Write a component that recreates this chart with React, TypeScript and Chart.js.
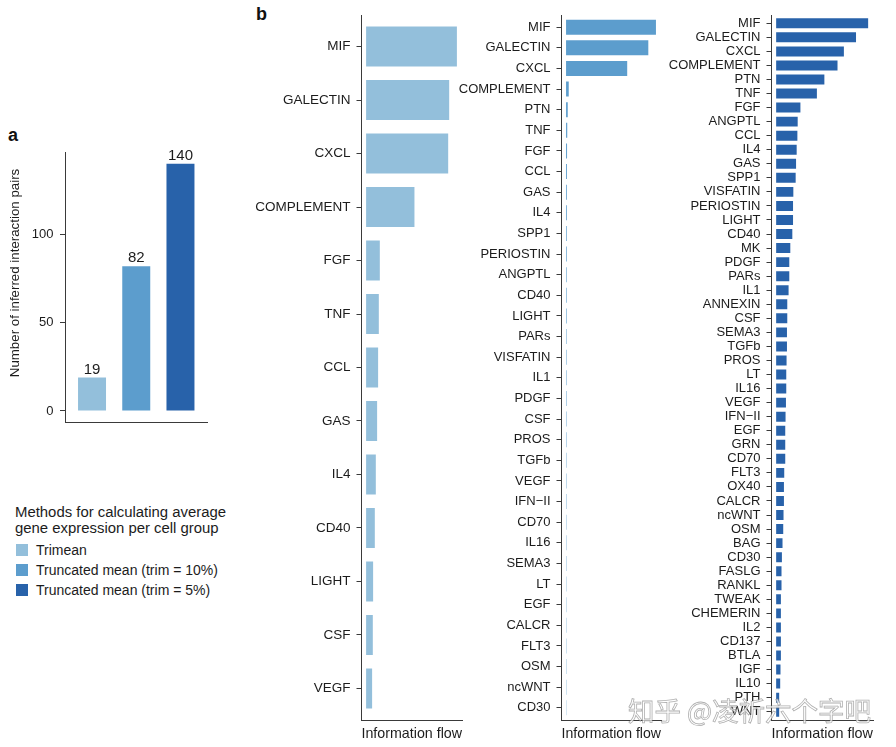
import { useEffect, useRef } from 'react';
import { Chart, registerables } from 'chart.js';

Chart.register(...registerables);

const FONT = "'Liberation Sans', Arial, sans-serif";
const INK = '#1c1c1c';
const AXIS = '#3a3a3a';

// Panel a: number of inferred interaction pairs per averaging method
const methodNames = ['Trimean', 'Truncated mean (trim = 10%)', 'Truncated mean (trim = 5%)'];
const methodColors = ['#93bfdb', '#5c9dcd', '#2862aa'];
const interactionPairs = [19, 82, 140];
const pairTicks = [0, 50, 100];
const pairsTitle = 'Number of inferred interaction pairs';

// Panel b: information flow of each signalling pathway (relative units)
const trimeanPathways = ['MIF', 'GALECTIN', 'CXCL', 'COMPLEMENT', 'FGF', 'TNF', 'CCL', 'GAS', 'IL4', 'CD40', 'LIGHT', 'CSF', 'VEGF'];
const trimeanFlow = [90.7, 83, 82, 48.3, 13.7, 12.7, 12, 11, 9.7, 8.7, 7, 6.7, 6];

const trunc10Pathways = ['MIF', 'GALECTIN', 'CXCL', 'COMPLEMENT', 'PTN', 'TNF', 'FGF', 'CCL', 'GAS', 'IL4', 'SPP1', 'PERIOSTIN', 'ANGPTL', 'CD40', 'LIGHT', 'PARs', 'VISFATIN', 'IL1', 'PDGF', 'CSF', 'PROS', 'TGFb', 'VEGF', 'IFN\u2212II', 'CD70', 'IL16', 'SEMA3', 'LT', 'EGF', 'CALCR', 'FLT3', 'OSM', 'ncWNT', 'CD30'];
const trunc10Flow = [90.7, 83, 61.7, 2.7, 1.7, 1.2, 1.0, 0.9, 0.8, 0.8, 0.7, 0.7, 0.6, 0.6, 0.6, 0.5, 0.5, 0.5, 0.5, 0.45, 0.45, 0.4, 0.4, 0.4, 0.35, 0.35, 0.35, 0.3, 0.3, 0.3, 0.3, 0.3, 0.3, 0.25];

const trunc5Pathways = ['MIF', 'GALECTIN', 'CXCL', 'COMPLEMENT', 'PTN', 'TNF', 'FGF', 'ANGPTL', 'CCL', 'IL4', 'GAS', 'SPP1', 'VISFATIN', 'PERIOSTIN', 'LIGHT', 'CD40', 'MK', 'PDGF', 'PARs', 'IL1', 'ANNEXIN', 'CSF', 'SEMA3', 'TGFb', 'PROS', 'LT', 'IL16', 'VEGF', 'IFN\u2212II', 'EGF', 'GRN', 'CD70', 'FLT3', 'OX40', 'CALCR', 'ncWNT', 'OSM', 'BAG', 'CD30', 'FASLG', 'RANKL', 'TWEAK', 'CHEMERIN', 'IL2', 'CD137', 'BTLA', 'IGF', 'IL10', 'PTH', 'WNT'];
const trunc5Flow = [91, 79, 67, 60.7, 47.7, 40.3, 24, 21.3, 21, 20.3, 19.7, 19.3, 17, 16.7, 16.7, 16, 14, 13, 13, 12.3, 11, 11, 10.7, 10.7, 10.3, 10, 10, 9.7, 9.3, 9, 9, 9, 8, 7.7, 7.7, 7.3, 7, 6.3, 5.7, 5.3, 5.3, 4.7, 4.7, 4.7, 4.7, 4.7, 4.3, 4, 3, 3];

const FLOW_MIN = -4.6;
const FLOW_MAX = 95.8;

Chart.defaults.font.family = FONT;

// Count labels above the bars of panel a, plus the rotated y-axis title
const pairsDecor = {
  id: 'pairsDecor',
  afterDatasetsDraw(chart: any) {
    const { ctx } = chart;
    const meta = chart.getDatasetMeta(0);
    ctx.save();
    ctx.font = `15px ${FONT}`;
    ctx.fillStyle = INK;
    ctx.textAlign = 'center';
    ctx.textBaseline = 'bottom';
    meta.data.forEach((bar: any, i: number) => {
      ctx.fillText(String(interactionPairs[i]), bar.x, bar.y - 0.5);
    });
    ctx.translate(15.5, 143);
    ctx.rotate(-Math.PI / 2);
    ctx.font = `13.3px ${FONT}`;
    ctx.textBaseline = 'middle';
    ctx.fillText(pairsTitle, 0, 0);
    ctx.restore();
  },
};

function PairsChart() {
  const ref = useRef<HTMLCanvasElement>(null);
  const left = 0;
  const top = 130;
  const width = 215;
  const height = 308;
  useEffect(() => {
    const chart = new Chart(ref.current!, {
      type: 'bar',
      data: {
        datasets: [
          {
            data: interactionPairs.map((v, i) => ({ x: i, y: v })),
            backgroundColor: methodColors,
            borderWidth: 0,
            barPercentage: 0.633,
            categoryPercentage: 1,
          },
        ],
      },
      options: {
        animation: false,
        responsive: false,
        events: [],
        layout: { padding: { top: 22.3, right: 8, bottom: 16, left: 0 } },
        plugins: { legend: { display: false }, tooltip: { enabled: false } },
        scales: {
          x: {
            type: 'linear',
            offset: false,
            bounds: 'data',
            min: -0.6,
            max: 2.6,
            afterBuildTicks: (s: any) => {
              s.ticks = interactionPairs.map((_, i) => ({ value: i }));
            },
            ticks: { display: false },
            grid: { display: false },
            border: { display: true, color: AXIS, width: 1 },
            afterFit: (s: any) => {
              s.height = 0;
            },
          },
          y: {
            type: 'linear',
            offset: false,
            bounds: 'data',
            min: -6.24,
            max: 146.5,
            afterBuildTicks: (s: any) => {
              s.ticks = pairTicks.map((v) => ({ value: v }));
            },
            ticks: { color: INK, padding: 6.5, font: { family: FONT, size: 13 } },
            grid: { display: true, drawOnChartArea: false, drawTicks: true, tickLength: 5.5, color: AXIS },
            border: { display: true, color: AXIS, width: 1 },
            afterFit: (s: any) => {
              s.width = 65.5;
            },
          },
        },
      },
      plugins: [pairsDecor],
    } as any);
    return () => chart.destroy();
  }, []);
  return (
    <canvas
      ref={ref}
      width={width}
      height={height}
      style={{ position: 'absolute', left, top, width, height }}
    />
  );
}

type PanelProps = {
  labels: string[];
  values: number[];
  color: string;
  left: number;
  axisX: number;
  right: number;
  ratio: number;
  fontSize: number;
};

function FlowChart({ labels, values, color, left, axisX, right, ratio, fontSize }: PanelProps) {
  const ref = useRef<HTMLCanvasElement>(null);
  const width = Math.round(right - left) + 8;
  const height = 747;
  useEffect(() => {
    const n = labels.length;
    const chart = new Chart(ref.current!, {
      type: 'bar',
      data: {
        datasets: [
          {
            data: values.map((v, i) => ({ x: v, y: i })),
            backgroundColor: color,
            borderWidth: 0,
            barPercentage: ratio,
            categoryPercentage: 1,
          },
        ],
      },
      options: {
        indexAxis: 'y',
        animation: false,
        responsive: false,
        events: [],
        layout: { padding: { top: 15, right: 8, bottom: 0, left: 0 } },
        plugins: { legend: { display: false }, tooltip: { enabled: false } },
        scales: {
          x: {
            type: 'linear',
            offset: false,
            bounds: 'data',
            min: FLOW_MIN,
            max: FLOW_MAX,
            ticks: { display: false },
            grid: { display: false },
            border: { display: true, color: AXIS, width: 1 },
            title: {
              display: true,
              text: 'Information flow',
              color: INK,
              font: { family: FONT, size: 15 },
              padding: { top: 0, bottom: 4 },
            },
            afterFit: (s: any) => {
              s.height = 27;
            },
          },
          y: {
            type: 'linear',
            offset: false,
            bounds: 'data',
            reverse: true,
            min: -0.59,
            max: n - 0.41,
            afterBuildTicks: (s: any) => {
              s.ticks = labels.map((_, i) => ({ value: i }));
            },
            ticks: {
              autoSkip: false,
              color: INK,
              padding: 6,
              font: { family: FONT, size: fontSize },
              callback: (v: any) => labels[v as number] ?? '',
            },
            grid: { display: true, offset: false, drawOnChartArea: false, drawTicks: true, tickLength: 5, color: AXIS },
            border: { display: true, color: AXIS, width: 1 },
            afterFit: (s: any) => {
              s.width = axisX - left;
            },
          },
        },
      },
    } as any);
    return () => chart.destroy();
  }, []);
  return (
    <canvas
      ref={ref}
      width={width}
      height={height}
      style={{ position: 'absolute', left, top: 0, width, height }}
    />
  );
}

export default function App() {
  return (
    <div
      style={{
        position: 'absolute',
        left: 0,
        top: 0,
        width: 896,
        height: 747,
        background: '#ffffff',
        overflow: 'hidden',
        fontFamily: FONT,
        color: INK,
      }}
    >
      <div style={{ position: 'absolute', left: 8, top: 126, font: `bold 18px ${FONT}`, lineHeight: '18px', color: '#111' }}>a</div>
      <div style={{ position: 'absolute', left: 256, top: 5.4, font: `bold 18px ${FONT}`, lineHeight: '18px', color: '#111' }}>b</div>

      <PairsChart />

      <div style={{ position: 'absolute', left: 15, top: 503.5, fontSize: 14, lineHeight: '16px' }}>
        <div style={{ fontSize: 14.9 }}>Methods for calculating average</div>
        <div style={{ fontSize: 14.9 }}>gene expression per cell group</div>
        <div style={{ marginTop: 4 }}>
          {methodNames.map((name, i) => (
            <div key={name} style={{ display: 'flex', alignItems: 'center', height: 20.3 }}>
              <span style={{ display: 'inline-block', width: 12, height: 12, background: methodColors[i], marginLeft: 1, marginRight: 8 }} />
              <span>{name}</span>
            </div>
          ))}
        </div>
      </div>

      <FlowChart labels={trimeanPathways} values={trimeanFlow} color={methodColors[0]} left={240} axisX={361.5} right={462} ratio={0.748} fontSize={13.5} />
      <FlowChart labels={trunc10Pathways} values={trunc10Flow} color={methodColors[1]} left={440} axisX={561.5} right={661} ratio={0.726} fontSize={13} />
      <FlowChart labels={trunc5Pathways} values={trunc5Flow} color={methodColors[2]} left={650} axisX={771.5} right={872.5} ratio={0.71} fontSize={13} />

      <div
        style={{
          position: 'absolute',
          left: 628,
          top: 694,
          fontFamily: "'Noto Sans CJK SC', sans-serif",
          fontSize: 26.5,
          lineHeight: '32px',
          color: 'rgba(255,255,255,0.75)',
          WebkitTextStroke: '0.8px rgba(110,110,110,0.55)',
          whiteSpace: 'nowrap',
          pointerEvents: 'none',
        }}
      >
        知乎 @凌祈六个字吧
      </div>
    </div>
  );
}
